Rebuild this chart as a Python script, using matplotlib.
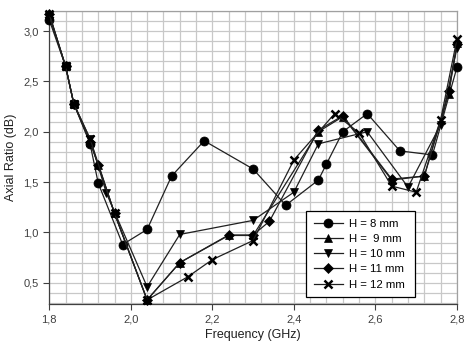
import matplotlib.pyplot as plt
import numpy as np
from matplotlib.ticker import MultipleLocator, FuncFormatter

plt.rcParams['font.family'] = ['Liberation Sans', 'DejaVu Sans']

# Дані
x_8 = [1.80, 1.84, 1.86, 1.90, 1.92, 1.98, 2.04, 2.10, 2.18, 2.30, 2.38, 2.46, 2.48, 2.52, 2.58, 2.66, 2.74, 2.80]
y_8 = [3.11, 2.65, 2.28, 1.88, 1.49, 0.88, 1.03, 1.56, 1.91, 1.63, 1.27, 1.52, 1.68, 2.00, 2.18, 1.81, 1.77, 2.64]

x_9 = [1.80, 1.84, 1.86, 1.90, 1.92, 1.96, 2.04, 2.12, 2.24, 2.30, 2.46, 2.52, 2.64, 2.72, 2.78, 2.80]
y_9 = [3.16, 2.65, 2.28, 1.90, 1.67, 1.19, 0.33, 0.70, 0.97, 0.97, 2.00, 2.15, 1.52, 1.56, 2.38, 2.88]

x_10 = [1.80, 1.84, 1.86, 1.90, 1.94, 2.04, 2.12, 2.30, 2.40, 2.46, 2.58, 2.68, 2.76, 2.80]
y_10 = [3.15, 2.65, 2.28, 1.93, 1.39, 0.46, 0.98, 1.12, 1.40, 1.88, 2.00, 1.45, 2.07, 2.83]

x_11 = [1.80, 1.84, 1.86, 1.90, 1.92, 1.96, 2.04, 2.12, 2.24, 2.30, 2.34, 2.46, 2.52, 2.64, 2.72, 2.78, 2.80]
y_11 = [3.17, 2.65, 2.28, 1.90, 1.67, 1.19, 0.33, 0.70, 0.975, 0.975, 1.11, 2.015, 2.16, 1.53, 1.56, 2.40, 2.87]

x_12 = [1.80, 1.84, 1.86, 1.90, 1.96, 2.04, 2.14, 2.20, 2.30, 2.40, 2.50, 2.56, 2.64, 2.70, 2.76, 2.80]
y_12 = [3.17, 2.65, 2.28, 1.93, 1.19, 0.33, 0.56, 0.73, 0.92, 1.72, 2.18, 1.99, 1.46, 1.40, 2.12, 2.92]

labels = ['H = 8 mm', 'H =  9 mm', 'H = 10 mm', 'H = 11 mm', 'H = 12 mm']
markers = ['o', '^', 'v', 'D', 'x']
sizes = [6.5, 6, 6, 5.5, 6]

fig = plt.figure(figsize=(4.74, 3.53), dpi=100)
ax = fig.add_axes([0.104, 0.139, 0.86, 0.83])

series = [(x_8, y_8), (x_9, y_9), (x_10, y_10), (x_11, y_11), (x_12, y_12)]
for (xs, ys), lab, m, s in zip(series, labels, markers, sizes):
    mew = 1.8 if m == 'x' else 0.5
    ax.plot(xs, ys, color='#202020', linewidth=0.9, marker=m, markersize=s,
            markerfacecolor='black', markeredgecolor='black', markeredgewidth=mew,
            label=lab, clip_on=False, zorder=3)

# Осі та сітка
ax.set_xlim(1.8, 2.8)
ax.set_ylim(0.29, 3.2)
ax.xaxis.set_major_locator(MultipleLocator(0.2))
ax.xaxis.set_minor_locator(MultipleLocator(0.04))
ax.yaxis.set_major_locator(MultipleLocator(0.5))
ax.yaxis.set_minor_locator(MultipleLocator(0.1))
fmt = FuncFormatter(lambda v, p: f'{v:.1f}'.replace('.', ','))
ax.xaxis.set_major_formatter(fmt)
ax.yaxis.set_major_formatter(fmt)
ax.grid(which='both', color='#c8c8c8', linewidth=0.9)
ax.set_axisbelow(True)
ax.tick_params(which='major', direction='out', length=4, width=0.8, color='#404040',
               labelsize=8, labelcolor='#404040')
ax.tick_params(which='minor', length=0)
for side in ['left', 'bottom']:
    ax.spines[side].set_color('#404040')
    ax.spines[side].set_linewidth(0.9)
for side in ['top', 'right']:
    ax.spines[side].set_color('#a0a0a0')
    ax.spines[side].set_linewidth(0.9)

ax.set_xlabel('Frequency (GHz)', fontsize=9, color='#202020', labelpad=3)
ax.set_ylabel('Axial Ratio (dB)', fontsize=9, color='#202020', labelpad=5)

leg = ax.legend(loc='lower left', bbox_to_anchor=(0.629, 0.022, 0.267, 0.30), mode='expand',
                fontsize=8.2, frameon=True, fancybox=False, edgecolor='black',
                framealpha=1, handlelength=2.6, labelspacing=0.45, borderpad=0.7,
                handletextpad=0.5, borderaxespad=0)
leg.get_frame().set_linewidth(0.9)

fig.savefig('out.png', dpi=100)
